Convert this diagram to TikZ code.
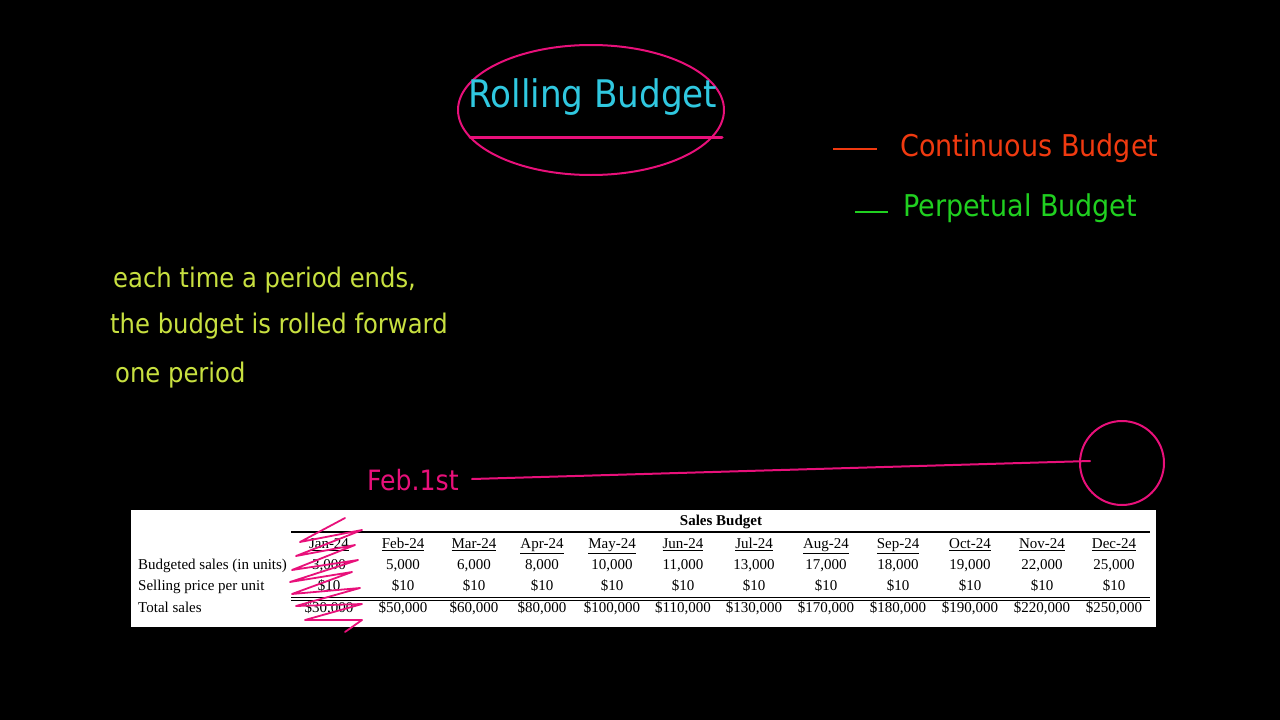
\documentclass[tikz,border=0pt]{standalone}
\usepackage{fontspec}
\setmainfont{Liberation Serif}
\newfontfamily\hand{DejaVu Sans Condensed}
\definecolor{pinkk}{HTML}{E8107A}
\definecolor{cyann}{HTML}{30C8E0}
\definecolor{redd}{HTML}{F03A10}
\definecolor{grn}{HTML}{20D020}
\definecolor{ylw}{HTML}{C8E040}
\tikzset{hw/.style={font=\hand\fontsize{27}{29}\selectfont,anchor=west,inner sep=0},
 cell/.style={font=\fontsize{15}{17}\selectfont,inner sep=0,text height=10pt,text depth=3pt},
 pk/.style={draw=pinkk,line width=2pt,line cap=round}}
\begin{document}
\begin{tikzpicture}[x=1pt,y=-1pt]
\fill[black] (0,0) rectangle (1280,720);
\useasboundingbox (0,0) rectangle (1280,720);
% title
\draw[pk] (591,110) ellipse [x radius=133,y radius=65];
\draw[pk,line width=3pt] (470,137) -- (722,137);
\node[font=\hand\fontsize{38}{40}\selectfont,text=cyann,inner sep=0] (title) at (593,97) {Rolling Budget};
\draw[draw=redd,line width=2pt] (833,149) -- (877,149);
\node[hw,text=redd,font=\hand\fontsize{30}{32}\selectfont] (cont) at (900,148) {Continuous Budget};
\draw[draw=grn,line width=2pt] (855,212) -- (888,212);
\node[hw,text=grn,font=\hand\fontsize{30}{32}\selectfont] (perp) at (903,208) {Perpetual Budget};
\node[hw,text=ylw] (l1) at (113,280) {each time a period ends,};
\node[hw,text=ylw] (l2) at (110,326) {the budget is rolled forward};
\node[hw,text=ylw] (l3) at (115,375) {one period};
\node[hw,text=pinkk,font=\hand\fontsize{28}{30}\selectfont] (feb) at (367,480) {Feb.1st};
\draw[pk] (472,479) -- (1090,461);
\draw[pk] (1122,463) circle [radius=42];
% table
\fill[white] (131,510) rectangle (1156,627);
\node[cell,font=\bfseries\fontsize{15}{17}\selectfont] (sb) at (721,522) {Sales Budget};
\draw[line width=1.5pt] (291,532) -- (1150,532);
\draw (291,597) -- (1150,597);
\draw (291,600) -- (1150,600);
\foreach \t/\y in {Budgeted sales (in units)/566,Selling price per unit/587,Total sales/609}
  \node[cell,anchor=west] at (138,\y) {\t};
\foreach \x/\m/\u/\r [count=\i] in {329/Jan/{3,000}/{\$30,000},403/Feb/{5,000}/{\$50,000},474/Mar/{6,000}/{\$60,000},542/Apr/{8,000}/{\$80,000},612/May/{10,000}/{\$100,000},683/Jun/{11,000}/{\$110,000},754/Jul/{13,000}/{\$130,000},826/Aug/{17,000}/{\$170,000},898/Sep/{18,000}/{\$180,000},970/Oct/{19,000}/{\$190,000},1042/Nov/{22,000}/{\$220,000},1114/Dec/{25,000}/{\$250,000}}{
  \node[cell] (m\i) at (\x,545) {\underline{\m-24}};
  \node[cell] (u\i) at (\x,566) {\u};
  \node[cell] (p\i) at (\x,587) {\$10};
  \node[cell] (t\i) at (\x,609) {\r};
}
% scribbles
\draw[pk,line width=1.8pt,line join=round] (345,518) -- (300,542) -- (362,530) -- (296,556) -- (355,545) -- (292,570) -- (358,560) -- (290,582) -- (352,572) -- (292,594) -- (360,588) -- (296,606) -- (362,604) -- (305,620) -- (362,620) -- (345,632);
\end{tikzpicture}
\end{document}
